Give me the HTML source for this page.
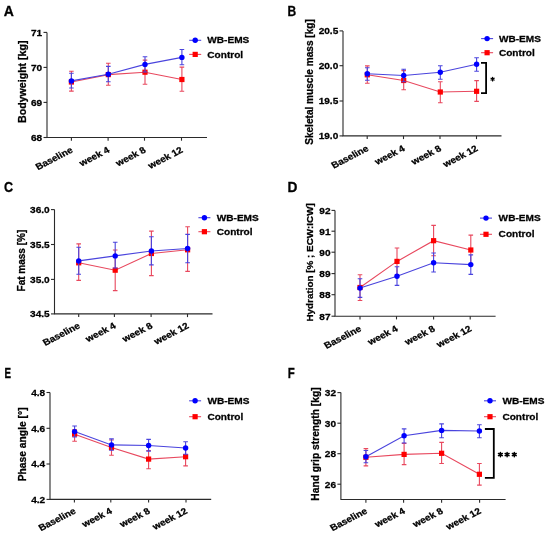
<!DOCTYPE html>
<html><head><meta charset="utf-8"><style>
html,body{margin:0;padding:0;background:#fff;}
svg{display:block;will-change:transform;}
text{font-family:"Liberation Sans", sans-serif;font-weight:bold;fill:#000;stroke:#000;stroke-width:0.28px;}
.lt{font-size:14px;}
.tk{font-size:10.1px;}
.xl{font-size:10px;}
.st{letter-spacing:1.5px;}
.ax{fill:none;stroke:#2a2a2a;stroke-width:1.1;}
</style></head><body>
<svg width="550" height="540" viewBox="0 0 550 540">
<rect width="550" height="540" fill="#fff"/>
<g><text transform="translate(3.75,15.5) scale(1.0,1.08)" class="lt">A</text>
<path d="M47 32.4V137.5H207" class="ax"/>
<path d="M43.5 32.4H47" class="ax"/>
<text transform="translate(42.2,35.7) scale(1,0.95)" class="tk" text-anchor="end">71</text>
<path d="M43.5 67.4H47" class="ax"/>
<text transform="translate(42.2,70.7) scale(1,0.95)" class="tk" text-anchor="end">70</text>
<path d="M43.5 102.4H47" class="ax"/>
<text transform="translate(42.2,105.7) scale(1,0.95)" class="tk" text-anchor="end">69</text>
<path d="M43.5 137.5H47" class="ax"/>
<text transform="translate(42.2,140.8) scale(1,0.95)" class="tk" text-anchor="end">68</text>
<path d="M71.4 137.5V140.7" class="ax"/>
<text transform="translate(73.5,151.7) scale(1,0.9) rotate(-30)" class="xl" text-anchor="end">Baseline</text>
<path d="M108.1 137.5V140.7" class="ax"/>
<text transform="translate(110.2,151.7) scale(1,0.9) rotate(-30)" class="xl" text-anchor="end">week 4</text>
<path d="M144.5 137.5V140.7" class="ax"/>
<text transform="translate(146.6,151.7) scale(1,0.9) rotate(-30)" class="xl" text-anchor="end">week 8</text>
<path d="M181.5 137.5V140.7" class="ax"/>
<text transform="translate(183.6,151.7) scale(1,0.9) rotate(-30)" class="xl" text-anchor="end">week 12</text>
<text transform="translate(25.5,81.7) rotate(-90)" font-size="10.6" text-anchor="middle">Bodyweight [kg]</text>
<path d="M71.4 82 L108.3 74.6 L145 72.2 L181.9 79.5" fill="none" stroke="#e8485e" stroke-width="1.1"/>
<path d="M71.4 71.3V91.1M69.1 71.3H73.7M69.1 91.1H73.7" fill="none" stroke="#e8485e" stroke-width="1.1"/>
<path d="M108.3 63.3V85.3M106 63.3H110.6M106 85.3H110.6" fill="none" stroke="#e8485e" stroke-width="1.1"/>
<path d="M145 60.1V84.2M142.7 60.1H147.3M142.7 84.2H147.3" fill="none" stroke="#e8485e" stroke-width="1.1"/>
<path d="M181.9 67.1V91.3M179.6 67.1H184.2M179.6 91.3H184.2" fill="none" stroke="#e8485e" stroke-width="1.1"/>
<rect x="68.8" y="79.4" width="5.2" height="5.2" fill="#ff0000"/>
<rect x="105.7" y="72" width="5.2" height="5.2" fill="#ff0000"/>
<rect x="142.4" y="69.6" width="5.2" height="5.2" fill="#ff0000"/>
<rect x="179.3" y="76.9" width="5.2" height="5.2" fill="#ff0000"/>
<path d="M71.4 80.9 L108.3 74.2 L145 64.4 L181.9 57.4" fill="none" stroke="#4a44dd" stroke-width="1.1"/>
<path d="M71.4 73.3V88M69.1 73.3H73.7M69.1 88H73.7" fill="none" stroke="#4a44dd" stroke-width="1.1"/>
<path d="M108.3 66.4V81.7M106 66.4H110.6M106 81.7H110.6" fill="none" stroke="#4a44dd" stroke-width="1.1"/>
<path d="M145 56.8V72M142.7 56.8H147.3M142.7 72H147.3" fill="none" stroke="#4a44dd" stroke-width="1.1"/>
<path d="M181.9 49.5V64.8M179.6 49.5H184.2M179.6 64.8H184.2" fill="none" stroke="#4a44dd" stroke-width="1.1"/>
<circle cx="71.4" cy="80.9" r="2.7" fill="#0000ff"/>
<circle cx="108.3" cy="74.2" r="2.7" fill="#0000ff"/>
<circle cx="145" cy="64.4" r="2.7" fill="#0000ff"/>
<circle cx="181.9" cy="57.4" r="2.7" fill="#0000ff"/>
<path d="M189.2 40.3H201.2" stroke="#4a44dd" stroke-width="1.1"/>
<circle cx="195.2" cy="40.3" r="2.7" fill="#0000ff"/>
<text transform="translate(207.3,43.4) scale(1,0.95)" class="tk">WB-EMS</text>
<path d="M189.2 54.4H201.2" stroke="#e8485e" stroke-width="1.1"/>
<rect x="192.6" y="51.8" width="5.2" height="5.2" fill="#ff0000"/>
<text transform="translate(207.3,57.5) scale(1,0.95)" class="tk">Control</text></g>
<g><text transform="translate(287.49,15.6) scale(0.86,1.08)" class="lt">B</text>
<path d="M343 30.9V135.9H501.5" class="ax"/>
<path d="M339.5 30.9H343" class="ax"/>
<text transform="translate(338.3,34.2) scale(1,0.95)" class="tk" text-anchor="end">20.5</text>
<path d="M339.5 65.7H343" class="ax"/>
<text transform="translate(338.3,69) scale(1,0.95)" class="tk" text-anchor="end">20.0</text>
<path d="M339.5 101H343" class="ax"/>
<text transform="translate(338.3,104.3) scale(1,0.95)" class="tk" text-anchor="end">19.5</text>
<path d="M339.5 135.9H343" class="ax"/>
<text transform="translate(338.3,139.2) scale(1,0.95)" class="tk" text-anchor="end">19.0</text>
<path d="M367.2 135.9V139.1" class="ax"/>
<text transform="translate(369.3,150.15) scale(1,0.9) rotate(-30)" class="xl" text-anchor="end">Baseline</text>
<path d="M403.5 135.9V139.1" class="ax"/>
<text transform="translate(405.6,150.15) scale(1,0.9) rotate(-30)" class="xl" text-anchor="end">week 4</text>
<path d="M440 135.9V139.1" class="ax"/>
<text transform="translate(442.1,150.15) scale(1,0.9) rotate(-30)" class="xl" text-anchor="end">week 8</text>
<path d="M476.5 135.9V139.1" class="ax"/>
<text transform="translate(478.6,150.15) scale(1,0.9) rotate(-30)" class="xl" text-anchor="end">week 12</text>
<text transform="translate(312.8,82) rotate(-90)" font-size="10.1" text-anchor="middle">Skeletal muscle mass [kg]</text>
<path d="M367.3 74.8 L403.7 80.5 L440.3 92 L476.6 91.3" fill="none" stroke="#e8485e" stroke-width="1.1"/>
<path d="M367.3 65.9V83.3M365 65.9H369.6M365 83.3H369.6" fill="none" stroke="#e8485e" stroke-width="1.1"/>
<path d="M403.7 70.6V89.7M401.4 70.6H406M401.4 89.7H406" fill="none" stroke="#e8485e" stroke-width="1.1"/>
<path d="M440.3 81.7V102.7M438 81.7H442.6M438 102.7H442.6" fill="none" stroke="#e8485e" stroke-width="1.1"/>
<path d="M476.6 80.6V101.4M474.3 80.6H478.9M474.3 101.4H478.9" fill="none" stroke="#e8485e" stroke-width="1.1"/>
<rect x="364.7" y="72.2" width="5.2" height="5.2" fill="#ff0000"/>
<rect x="401.1" y="77.9" width="5.2" height="5.2" fill="#ff0000"/>
<rect x="437.7" y="89.4" width="5.2" height="5.2" fill="#ff0000"/>
<rect x="474" y="88.7" width="5.2" height="5.2" fill="#ff0000"/>
<path d="M367.3 73.8 L403.7 75.5 L440.3 72.3 L476.6 64.3" fill="none" stroke="#4a44dd" stroke-width="1.1"/>
<path d="M367.3 67.8V80.3M365 67.8H369.6M365 80.3H369.6" fill="none" stroke="#4a44dd" stroke-width="1.1"/>
<path d="M403.7 69.3V81.7M401.4 69.3H406M401.4 81.7H406" fill="none" stroke="#4a44dd" stroke-width="1.1"/>
<path d="M440.3 65.7V79.2M438 65.7H442.6M438 79.2H442.6" fill="none" stroke="#4a44dd" stroke-width="1.1"/>
<path d="M476.6 57.8V71.2M474.3 57.8H478.9M474.3 71.2H478.9" fill="none" stroke="#4a44dd" stroke-width="1.1"/>
<circle cx="367.3" cy="73.8" r="2.7" fill="#0000ff"/>
<circle cx="403.7" cy="75.5" r="2.7" fill="#0000ff"/>
<circle cx="440.3" cy="72.3" r="2.7" fill="#0000ff"/>
<circle cx="476.6" cy="64.3" r="2.7" fill="#0000ff"/>
<path d="M481.1 38.6H493.1" stroke="#4a44dd" stroke-width="1.1"/>
<circle cx="487.1" cy="38.6" r="2.7" fill="#0000ff"/>
<text transform="translate(498.9,41.7) scale(1,0.95)" class="tk">WB-EMS</text>
<path d="M481.1 52.7H493.1" stroke="#e8485e" stroke-width="1.1"/>
<rect x="484.5" y="50.1" width="5.2" height="5.2" fill="#ff0000"/>
<text transform="translate(498.9,55.8) scale(1,0.95)" class="tk">Control</text>
<path d="M481 62.9H486.1V93.2H481" fill="none" stroke="#000" stroke-width="1.8"/>
<path d="M492.6 77.31L492.6 80.88M491.05 78.21L494.15 79.99M494.15 78.21L491.05 79.99" stroke="#000" stroke-width="1.27" stroke-linecap="round"/></g>
<g><text transform="translate(3.98,192) scale(0.9,1.08)" class="lt">C</text>
<path d="M54.5 209.6V313.9H212.5" class="ax"/>
<path d="M51 209.6H54.5" class="ax"/>
<text transform="translate(49.7,212.9) scale(1,0.95)" class="tk" text-anchor="end">36.0</text>
<path d="M51 244.5H54.5" class="ax"/>
<text transform="translate(49.7,247.8) scale(1,0.95)" class="tk" text-anchor="end">35.5</text>
<path d="M51 279.4H54.5" class="ax"/>
<text transform="translate(49.7,282.7) scale(1,0.95)" class="tk" text-anchor="end">35.0</text>
<path d="M51 313.9H54.5" class="ax"/>
<text transform="translate(49.7,317.2) scale(1,0.95)" class="tk" text-anchor="end">34.5</text>
<path d="M78.7 313.9V317.1" class="ax"/>
<text transform="translate(80.8,327.6) scale(1,0.9) rotate(-30)" class="xl" text-anchor="end">Baseline</text>
<path d="M114.4 313.9V317.1" class="ax"/>
<text transform="translate(116.5,327.6) scale(1,0.9) rotate(-30)" class="xl" text-anchor="end">week 4</text>
<path d="M151.1 313.9V317.1" class="ax"/>
<text transform="translate(153.2,327.6) scale(1,0.9) rotate(-30)" class="xl" text-anchor="end">week 8</text>
<path d="M187.5 313.9V317.1" class="ax"/>
<text transform="translate(189.6,327.6) scale(1,0.9) rotate(-30)" class="xl" text-anchor="end">week 12</text>
<text transform="translate(25.4,260.6) rotate(-90)" font-size="10" text-anchor="middle">Fat mass [%]</text>
<path d="M78.7 262.8 L115.2 270.2 L151.4 253.5 L187.6 249.8" fill="none" stroke="#e8485e" stroke-width="1.1"/>
<path d="M78.7 243.9V280.4M76.4 243.9H81M76.4 280.4H81" fill="none" stroke="#e8485e" stroke-width="1.1"/>
<path d="M115.2 250V290.6M112.9 250H117.5M112.9 290.6H117.5" fill="none" stroke="#e8485e" stroke-width="1.1"/>
<path d="M151.4 231.1V275.6M149.1 231.1H153.7M149.1 275.6H153.7" fill="none" stroke="#e8485e" stroke-width="1.1"/>
<path d="M187.6 226.7V271.4M185.3 226.7H189.9M185.3 271.4H189.9" fill="none" stroke="#e8485e" stroke-width="1.1"/>
<rect x="76.1" y="260.2" width="5.2" height="5.2" fill="#ff0000"/>
<rect x="112.6" y="267.6" width="5.2" height="5.2" fill="#ff0000"/>
<rect x="148.8" y="250.9" width="5.2" height="5.2" fill="#ff0000"/>
<rect x="185" y="247.2" width="5.2" height="5.2" fill="#ff0000"/>
<path d="M78.7 260.9 L115.2 255.9 L151.4 251 L187.6 248.5" fill="none" stroke="#4a44dd" stroke-width="1.1"/>
<path d="M78.7 247.3V274.2M76.4 247.3H81M76.4 274.2H81" fill="none" stroke="#4a44dd" stroke-width="1.1"/>
<path d="M115.2 242.2V268M112.9 242.2H117.5M112.9 268H117.5" fill="none" stroke="#4a44dd" stroke-width="1.1"/>
<path d="M151.4 236.7V264.9M149.1 236.7H153.7M149.1 264.9H153.7" fill="none" stroke="#4a44dd" stroke-width="1.1"/>
<path d="M187.6 234.4V262.7M185.3 234.4H189.9M185.3 262.7H189.9" fill="none" stroke="#4a44dd" stroke-width="1.1"/>
<circle cx="78.7" cy="260.9" r="2.7" fill="#0000ff"/>
<circle cx="115.2" cy="255.9" r="2.7" fill="#0000ff"/>
<circle cx="151.4" cy="251" r="2.7" fill="#0000ff"/>
<circle cx="187.6" cy="248.5" r="2.7" fill="#0000ff"/>
<path d="M198.4 217.7H210.4" stroke="#4a44dd" stroke-width="1.1"/>
<circle cx="204.4" cy="217.7" r="2.7" fill="#0000ff"/>
<text transform="translate(216.7,220.8) scale(1,0.95)" class="tk">WB-EMS</text>
<path d="M198.4 231.7H210.4" stroke="#e8485e" stroke-width="1.1"/>
<rect x="201.8" y="229.1" width="5.2" height="5.2" fill="#ff0000"/>
<text transform="translate(216.7,234.8) scale(1,0.95)" class="tk">Control</text></g>
<g><text transform="translate(287.58,192.1) scale(0.98,1.08)" class="lt">D</text>
<path d="M335 210.4V316.2H495.6" class="ax"/>
<path d="M331.5 210.4H335" class="ax"/>
<text transform="translate(330.5,213.7) scale(1,0.95)" class="tk" text-anchor="end">92</text>
<path d="M331.5 231.2H335" class="ax"/>
<text transform="translate(330.5,234.5) scale(1,0.95)" class="tk" text-anchor="end">91</text>
<path d="M331.5 252.2H335" class="ax"/>
<text transform="translate(330.5,255.5) scale(1,0.95)" class="tk" text-anchor="end">90</text>
<path d="M331.5 273.6H335" class="ax"/>
<text transform="translate(330.5,276.9) scale(1,0.95)" class="tk" text-anchor="end">89</text>
<path d="M331.5 294.7H335" class="ax"/>
<text transform="translate(330.5,298) scale(1,0.95)" class="tk" text-anchor="end">88</text>
<path d="M331.5 316.2H335" class="ax"/>
<text transform="translate(330.5,319.5) scale(1,0.95)" class="tk" text-anchor="end">87</text>
<path d="M360 316.2V319.4" class="ax"/>
<text transform="translate(362.1,330.5) scale(1,0.9) rotate(-30)" class="xl" text-anchor="end">Baseline</text>
<path d="M396.5 316.2V319.4" class="ax"/>
<text transform="translate(398.6,330.5) scale(1,0.9) rotate(-30)" class="xl" text-anchor="end">week 4</text>
<path d="M433.6 316.2V319.4" class="ax"/>
<text transform="translate(435.7,330.5) scale(1,0.9) rotate(-30)" class="xl" text-anchor="end">week 8</text>
<path d="M470.2 316.2V319.4" class="ax"/>
<text transform="translate(472.3,330.5) scale(1,0.9) rotate(-30)" class="xl" text-anchor="end">week 12</text>
<text transform="translate(313,262.4) rotate(-90)" font-size="9.9" text-anchor="middle">Hydration [% ; ECW:ICW]</text>
<path d="M360 287.5 L397 261.4 L433.6 240.7 L470.8 250" fill="none" stroke="#e8485e" stroke-width="1.1"/>
<path d="M360 274.8V300.5M357.7 274.8H362.3M357.7 300.5H362.3" fill="none" stroke="#e8485e" stroke-width="1.1"/>
<path d="M397 248V274.8M394.7 248H399.3M394.7 274.8H399.3" fill="none" stroke="#e8485e" stroke-width="1.1"/>
<path d="M433.6 225.4V255.8M431.3 225.4H435.9M431.3 255.8H435.9" fill="none" stroke="#e8485e" stroke-width="1.1"/>
<path d="M470.8 235.1V265M468.5 235.1H473.1M468.5 265H473.1" fill="none" stroke="#e8485e" stroke-width="1.1"/>
<rect x="357.4" y="284.9" width="5.2" height="5.2" fill="#ff0000"/>
<rect x="394.4" y="258.8" width="5.2" height="5.2" fill="#ff0000"/>
<rect x="431" y="238.1" width="5.2" height="5.2" fill="#ff0000"/>
<rect x="468.2" y="247.4" width="5.2" height="5.2" fill="#ff0000"/>
<path d="M360 288.1 L397 276.2 L433.6 262.7 L470.8 264.6" fill="none" stroke="#4a44dd" stroke-width="1.1"/>
<path d="M360 278.8V297.4M357.7 278.8H362.3M357.7 297.4H362.3" fill="none" stroke="#4a44dd" stroke-width="1.1"/>
<path d="M397 266.8V285.4M394.7 266.8H399.3M394.7 285.4H399.3" fill="none" stroke="#4a44dd" stroke-width="1.1"/>
<path d="M433.6 253V272M431.3 253H435.9M431.3 272H435.9" fill="none" stroke="#4a44dd" stroke-width="1.1"/>
<path d="M470.8 254.9V274.4M468.5 254.9H473.1M468.5 274.4H473.1" fill="none" stroke="#4a44dd" stroke-width="1.1"/>
<circle cx="360" cy="288.1" r="2.7" fill="#0000ff"/>
<circle cx="397" cy="276.2" r="2.7" fill="#0000ff"/>
<circle cx="433.6" cy="262.7" r="2.7" fill="#0000ff"/>
<circle cx="470.8" cy="264.6" r="2.7" fill="#0000ff"/>
<path d="M480 218.1H492" stroke="#4a44dd" stroke-width="1.1"/>
<circle cx="486" cy="218.1" r="2.7" fill="#0000ff"/>
<text transform="translate(498.6,221.2) scale(1,0.95)" class="tk">WB-EMS</text>
<path d="M480 234.3H492" stroke="#e8485e" stroke-width="1.1"/>
<rect x="483.4" y="231.7" width="5.2" height="5.2" fill="#ff0000"/>
<text transform="translate(498.6,237.4) scale(1,0.95)" class="tk">Control</text></g>
<g><text transform="translate(4.54,377.5) scale(0.7,1.08)" class="lt">E</text>
<path d="M50 392.5V499.4H211.2" class="ax"/>
<path d="M46.5 392.5H50" class="ax"/>
<text transform="translate(45.2,395.8) scale(1,0.95)" class="tk" text-anchor="end">4.8</text>
<path d="M46.5 428.3H50" class="ax"/>
<text transform="translate(45.2,431.6) scale(1,0.95)" class="tk" text-anchor="end">4.6</text>
<path d="M46.5 464H50" class="ax"/>
<text transform="translate(45.2,467.3) scale(1,0.95)" class="tk" text-anchor="end">4.4</text>
<path d="M46.5 499.4H50" class="ax"/>
<text transform="translate(45.2,502.7) scale(1,0.95)" class="tk" text-anchor="end">4.2</text>
<path d="M74.4 499.4V502.6" class="ax"/>
<text transform="translate(76.5,512.85) scale(1,0.9) rotate(-30)" class="xl" text-anchor="end">Baseline</text>
<path d="M110.8 499.4V502.6" class="ax"/>
<text transform="translate(112.9,512.85) scale(1,0.9) rotate(-30)" class="xl" text-anchor="end">week 4</text>
<path d="M148.6 499.4V502.6" class="ax"/>
<text transform="translate(150.7,512.85) scale(1,0.9) rotate(-30)" class="xl" text-anchor="end">week 8</text>
<path d="M186 499.4V502.6" class="ax"/>
<text transform="translate(188.1,512.85) scale(1,0.9) rotate(-30)" class="xl" text-anchor="end">week 12</text>
<text transform="translate(25.5,444.4) rotate(-90)" font-size="10.3" text-anchor="middle">Phase angle [°]</text>
<path d="M74.6 434.2 L111.5 447.6 L148.6 459.1 L185.6 456.7" fill="none" stroke="#e8485e" stroke-width="1.1"/>
<path d="M74.6 429.5V441.3M72.3 429.5H76.9M72.3 441.3H76.9" fill="none" stroke="#e8485e" stroke-width="1.1"/>
<path d="M111.5 440V455.2M109.2 440H113.8M109.2 455.2H113.8" fill="none" stroke="#e8485e" stroke-width="1.1"/>
<path d="M148.6 450.5V468.7M146.3 450.5H150.9M146.3 468.7H150.9" fill="none" stroke="#e8485e" stroke-width="1.1"/>
<path d="M185.6 447.5V465.9M183.3 447.5H187.9M183.3 465.9H187.9" fill="none" stroke="#e8485e" stroke-width="1.1"/>
<rect x="72" y="431.6" width="5.2" height="5.2" fill="#ff0000"/>
<rect x="108.9" y="445" width="5.2" height="5.2" fill="#ff0000"/>
<rect x="146" y="456.5" width="5.2" height="5.2" fill="#ff0000"/>
<rect x="183" y="454.1" width="5.2" height="5.2" fill="#ff0000"/>
<path d="M74.6 431.6 L111.5 444.9 L148.6 445.5 L185.6 448" fill="none" stroke="#4a44dd" stroke-width="1.1"/>
<path d="M74.6 426V437M72.3 426H76.9M72.3 437H76.9" fill="none" stroke="#4a44dd" stroke-width="1.1"/>
<path d="M111.5 438.9V450.3M109.2 438.9H113.8M109.2 450.3H113.8" fill="none" stroke="#4a44dd" stroke-width="1.1"/>
<path d="M148.6 439.4V451.1M146.3 439.4H150.9M146.3 451.1H150.9" fill="none" stroke="#4a44dd" stroke-width="1.1"/>
<path d="M185.6 441.8V454.2M183.3 441.8H187.9M183.3 454.2H187.9" fill="none" stroke="#4a44dd" stroke-width="1.1"/>
<circle cx="74.6" cy="431.6" r="2.7" fill="#0000ff"/>
<circle cx="111.5" cy="444.9" r="2.7" fill="#0000ff"/>
<circle cx="148.6" cy="445.5" r="2.7" fill="#0000ff"/>
<circle cx="185.6" cy="448" r="2.7" fill="#0000ff"/>
<path d="M189.1 400.8H201.1" stroke="#4a44dd" stroke-width="1.1"/>
<circle cx="195.1" cy="400.8" r="2.7" fill="#0000ff"/>
<text transform="translate(207.4,403.9) scale(1,0.95)" class="tk">WB-EMS</text>
<path d="M189.1 416.7H201.1" stroke="#e8485e" stroke-width="1.1"/>
<rect x="192.5" y="414.1" width="5.2" height="5.2" fill="#ff0000"/>
<text transform="translate(207.4,419.8) scale(1,0.95)" class="tk">Control</text></g>
<g><text transform="translate(287.73,377.6) scale(0.82,1.08)" class="lt">F</text>
<path d="M340.9 392.6V499.5H505.6" class="ax"/>
<path d="M337.4 392.6H340.9" class="ax"/>
<text transform="translate(336.1,395.9) scale(1,0.95)" class="tk" text-anchor="end">32</text>
<path d="M337.4 423.2H340.9" class="ax"/>
<text transform="translate(336.1,426.5) scale(1,0.95)" class="tk" text-anchor="end">30</text>
<path d="M337.4 453.7H340.9" class="ax"/>
<text transform="translate(336.1,457) scale(1,0.95)" class="tk" text-anchor="end">28</text>
<path d="M337.4 484.2H340.9" class="ax"/>
<text transform="translate(336.1,487.5) scale(1,0.95)" class="tk" text-anchor="end">26</text>
<path d="M365.9 499.5V502.7" class="ax"/>
<text transform="translate(368,512.65) scale(1,0.9) rotate(-30)" class="xl" text-anchor="end">Baseline</text>
<path d="M403.6 499.5V502.7" class="ax"/>
<text transform="translate(405.7,512.65) scale(1,0.9) rotate(-30)" class="xl" text-anchor="end">week 4</text>
<path d="M441.6 499.5V502.7" class="ax"/>
<text transform="translate(443.7,512.65) scale(1,0.9) rotate(-30)" class="xl" text-anchor="end">week 8</text>
<path d="M479.6 499.5V502.7" class="ax"/>
<text transform="translate(481.7,512.65) scale(1,0.9) rotate(-30)" class="xl" text-anchor="end">week 12</text>
<text transform="translate(318.8,444) rotate(-90)" font-size="10.25" text-anchor="middle">Hand grip strength [kg]</text>
<path d="M365.9 457.3 L404.1 454.4 L441.6 453.3 L479.4 474.3" fill="none" stroke="#e8485e" stroke-width="1.1"/>
<path d="M365.9 448.6V465.9M363.6 448.6H368.2M363.6 465.9H368.2" fill="none" stroke="#e8485e" stroke-width="1.1"/>
<path d="M404.1 443.4V464.6M401.8 443.4H406.4M401.8 464.6H406.4" fill="none" stroke="#e8485e" stroke-width="1.1"/>
<path d="M441.6 442.4V463.5M439.3 442.4H443.9M439.3 463.5H443.9" fill="none" stroke="#e8485e" stroke-width="1.1"/>
<path d="M479.4 463.5V485.1M477.1 463.5H481.7M477.1 485.1H481.7" fill="none" stroke="#e8485e" stroke-width="1.1"/>
<rect x="363.3" y="454.7" width="5.2" height="5.2" fill="#ff0000"/>
<rect x="401.5" y="451.8" width="5.2" height="5.2" fill="#ff0000"/>
<rect x="439" y="450.7" width="5.2" height="5.2" fill="#ff0000"/>
<rect x="476.8" y="471.7" width="5.2" height="5.2" fill="#ff0000"/>
<path d="M365.9 456.7 L404.1 435.7 L441.6 430.4 L479.4 431" fill="none" stroke="#4a44dd" stroke-width="1.1"/>
<path d="M365.9 450.5V462.8M363.6 450.5H368.2M363.6 462.8H368.2" fill="none" stroke="#4a44dd" stroke-width="1.1"/>
<path d="M404.1 428.9V443M401.8 428.9H406.4M401.8 443H406.4" fill="none" stroke="#4a44dd" stroke-width="1.1"/>
<path d="M441.6 423.9V437.8M439.3 423.9H443.9M439.3 437.8H443.9" fill="none" stroke="#4a44dd" stroke-width="1.1"/>
<path d="M479.4 424.8V437.8M477.1 424.8H481.7M477.1 437.8H481.7" fill="none" stroke="#4a44dd" stroke-width="1.1"/>
<circle cx="365.9" cy="456.7" r="2.7" fill="#0000ff"/>
<circle cx="404.1" cy="435.7" r="2.7" fill="#0000ff"/>
<circle cx="441.6" cy="430.4" r="2.7" fill="#0000ff"/>
<circle cx="479.4" cy="431" r="2.7" fill="#0000ff"/>
<path d="M484 400.8H496" stroke="#4a44dd" stroke-width="1.1"/>
<circle cx="490" cy="400.8" r="2.7" fill="#0000ff"/>
<text transform="translate(502.4,403.9) scale(1,0.95)" class="tk">WB-EMS</text>
<path d="M484 416.7H496" stroke="#e8485e" stroke-width="1.1"/>
<rect x="487.4" y="414.1" width="5.2" height="5.2" fill="#ff0000"/>
<text transform="translate(502.4,419.8) scale(1,0.95)" class="tk">Control</text>
<path d="M484.9 429H493.8V477.8H484.9" fill="none" stroke="#000" stroke-width="1.8"/>
<path d="M500.4 452.41L500.4 456.79M498.51 453.51L502.29 455.69M502.29 453.51L498.51 455.69" stroke="#000" stroke-width="1.56" stroke-linecap="round"/>
<path d="M507.1 452.41L507.1 456.79M505.21 453.51L508.99 455.69M508.99 453.51L505.21 455.69" stroke="#000" stroke-width="1.56" stroke-linecap="round"/>
<path d="M514.3 452.41L514.3 456.79M512.41 453.51L516.19 455.69M516.19 453.51L512.41 455.69" stroke="#000" stroke-width="1.56" stroke-linecap="round"/></g>
</svg>
</body></html>
